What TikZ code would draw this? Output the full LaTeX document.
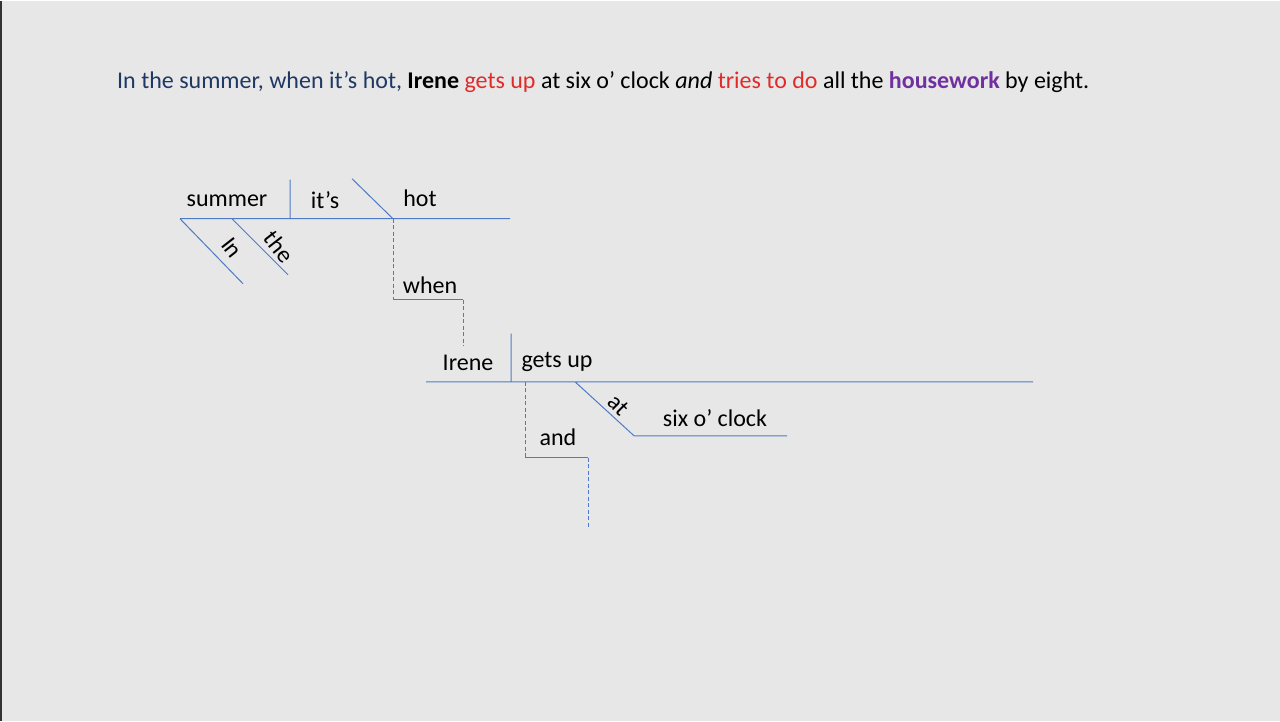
\documentclass[tikz,border=0pt]{standalone}
\usepackage{fontspec}
\setmainfont{Carlito}
\definecolor{bgcol}{HTML}{E7E7E7}
\definecolor{linecol}{HTML}{4F7AC7}
\definecolor{navycol}{HTML}{1F3864}
\definecolor{redcol}{HTML}{E02B2B}
\definecolor{purplecol}{HTML}{7030A0}
\tikzset{
	word/.style = {inner sep = 0pt, font = \fontsize{24}{28}\selectfont},
	base/.style = {draw = linecol, line width = 1pt},
	link/.style = {draw = linecol, line width = 1pt, dash pattern = on 4pt off 2.5pt}
}

\begin{document}
\begin{tikzpicture}[x = 1pt, y = -1pt]
	\fill[bgcol] (0,0) rectangle (1280,720);
	\draw[black!80, line width = 1.5pt] (0.75,0) -- (0.75,720);
	\useasboundingbox (0,0) rectangle (1280,720);

	% sentence
	\node[anchor = base west, inner sep = 0pt, font = \fontsize{24}{28}\selectfont] (sentence) at (117,88)
	{\color{navycol}In the summer, when it’s hot, \textbf{\color{black}Irene} \color{redcol}gets up \color{black}at six o’ clock \textit{and} \color{redcol}tries to do \color{black}all the \textbf{\color{purplecol}housework} by eight.};

	% clause: it's hot
	\coordinate (c1a) at (180,218);
	\coordinate (c1b) at (510,218);
	\coordinate (c1d) at (290,218);
	\coordinate (c1s) at (393,218);
	\coordinate (in) at (180,218);
	\coordinate (the) at (232,218);
	\draw[base]
	(c1a) -- (c1b)
	(c1d) --++ (0,-39)
	(c1s) --++ (-41,-40)
	(in) --++ (63,65)
	(the) --++ (56,56)
	;
	\node[word] (summer) at (227,200) {summer};
	\node[word] (its) at (325,199) {it’s};
	\node[word] (hot) at (420,198) {hot};
	\node[word, rotate = -52] (In) at (232,247) {In};
	\node[word, rotate = -52] (the-w) at (279,246) {the};

	% when
	\coordinate (w1) at (393,299);
	\coordinate (w2) at (463,299);
	\coordinate (w3) at (463,345);
	\draw[link] (c1s) -- (w1);
	\draw[base] (w1) -- (w2);
	\draw[link] (w2) -- (w3);
	\node[word] (when) at (430,285) {when};

	% main clause
	\coordinate (m1) at (426,381);
	\coordinate (m2) at (1033,381);
	\coordinate (md) at (511,381);
	\coordinate (ma) at (575,381);
	\coordinate (mb) at (634,435);
	\coordinate (mc) at (787,435);
	\draw[base]
	(m1) -- (m2)
	(md) --++ (0,-48)
	(ma) -- (mb) -- (mc)
	;
	\node[word] (Irene) at (468,362) {Irene};
	\node[word] (getsup) at (557,361) {gets up};
	\node[word, rotate = -45] (at) at (619,404) {at};
	\node[word] (clock) at (715,417) {six o’ clock};

	% and
	\coordinate (a0) at (525,381);
	\coordinate (a1) at (525,457);
	\coordinate (a2) at (588,457);
	\coordinate (a3) at (588,527);
	\draw[link] (a0) -- (a1);
	\draw[base] (a1) -- (a2);
	\draw[link] (a2) -- (a3);
	\node[word] (and) at (558,437) {and};
\end{tikzpicture}
\end{document}
